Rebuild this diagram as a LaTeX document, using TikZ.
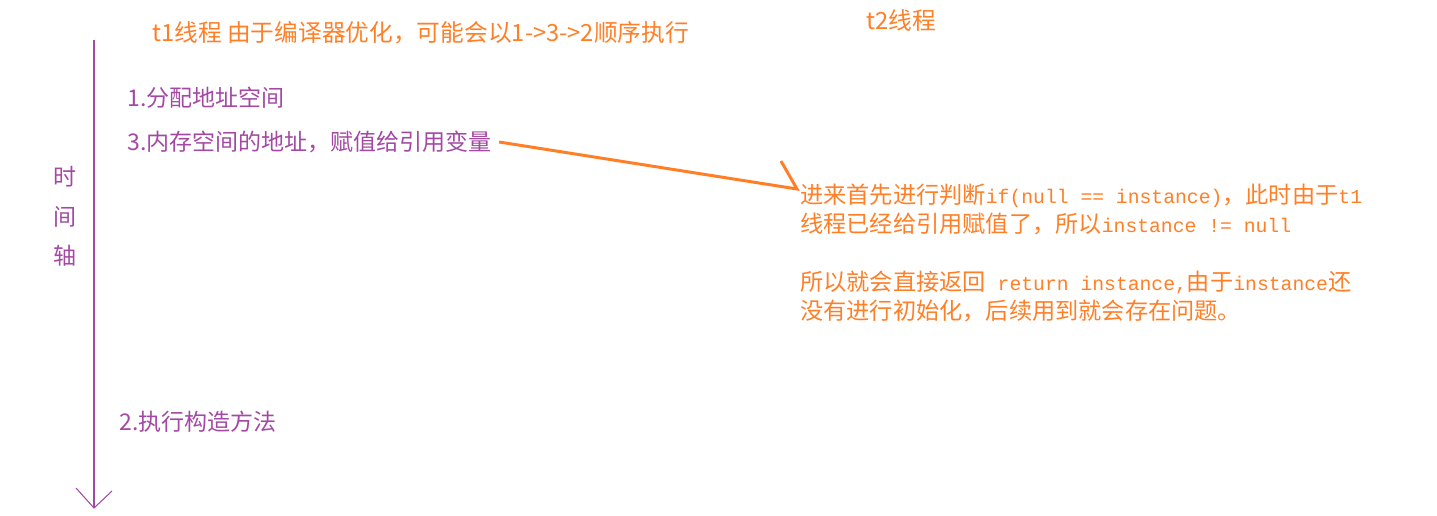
\documentclass[tikz,border=0pt]{standalone}
\usepackage{fontspec}
\setmainfont{Noto Sans CJK SC}
\newfontfamily\kodfont{Liberation Mono}[Scale=0.85]
\usepackage{tikz}
\usetikzlibrary{arrows.meta,positioning}
\definecolor{lila}{HTML}{A349A4}
\definecolor{narancs}{HTML}{FF7F27}
\newcommand{\kod}[1]{{\kodfont #1}}
\tikzset{
  lepes/.style={anchor=west,inner sep=0pt,text=lila,font=\fontsize{13.1}{16}\selectfont},
  cim/.style={anchor=west,inner sep=0pt,text=narancs,font=\fontsize{13.5}{16}\selectfont},
  magy/.style={anchor=north west,inner sep=0pt,align=left,text=narancs,
    font=\fontsize{13.2}{16.4}\selectfont},
  nyil/.style={draw=narancs,line width=1.7pt},
  tengely/.style={draw=lila,line width=0.6pt},
}
\begin{document}
\begin{tikzpicture}[x=0.02cm,y=-0.02cm]
  \useasboundingbox (0,0) rectangle (1437,516);
  \node[cim] (t1) at (152,33) {t1线程 由于编译器优化，可能会以1->3->2顺序执行};
  \node[cim] (t2) at (866,20) {t2线程};
  % idotengely
  \coordinate (tfent) at (94,40); \coordinate (tlent) at (94,508);
  \draw[tengely] (tfent) -- (tlent);
  \draw[tengely] (tlent) ++(-18,-20) -- (tlent) -- ++(18,-17);
  \node[lepes] (ido1) at (53,177) {时};
  \node[lepes] (ido2) at (53,217) {间};
  \node[lepes] (ido3) at (53,256) {轴};
  \node[lepes] (lep1) at (127,98) {1.分配地址空间};
  \node[lepes] (lep3) at (127,142) {3.内存空间的地址，赋值给引用变量};
  \node[lepes] (lep2) at (119,422) {2.执行构造方法};
  \node[magy] (t2szov) at (800,184)
    {进来首先进行判断\kod{if(null == instance)}，此时由于\kod{t1}\\
     线程已经给引用赋值了，所以\kod{instance != null}\\[16.4pt]
     所以就会直接返回\kod{ return instance,}由于\kod{instance}还\\
     没有进行初始化，后续用到就会存在问题。};
  \coordinate (cel) at (797,189);
  \draw[nyil] ([xshift=7*0.02cm]lep3.east) -- (cel) -- ++(-16,-28);
\end{tikzpicture}
\end{document}
